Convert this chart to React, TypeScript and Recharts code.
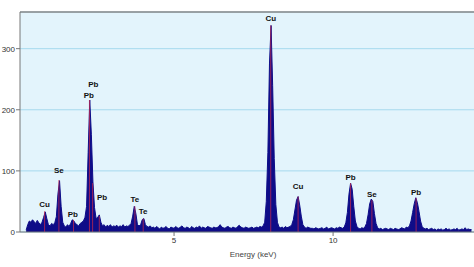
import { Area, CartesianGrid, ComposedChart, ReferenceDot, ReferenceLine, XAxis, YAxis } from 'recharts';

// Spectre EDS : canaux de 0,05 keV à partir de 0,35 keV
const startKeV = 0.35;
const stepKeV = 0.05;

const counts = [
  // 0.35 - 1.30
  3, 12, 18, 16, 20, 17, 14, 19, 15, 12, 16, 24, 33, 22, 12, 10, 14, 12, 15, 25,
  // 1.35 - 2.30
  62, 84, 42, 16, 10, 8, 12, 9, 14, 20, 18, 14, 12, 10, 14, 16, 18, 24, 42, 130,
  // 2.35 - 3.30
  216, 160, 82, 40, 22, 24, 28, 16, 10, 12, 8, 11, 9, 12, 8, 10, 9, 11, 8, 10,
  // 3.35 - 4.30
  9, 12, 8, 10, 9, 11, 14, 26, 42, 30, 12, 10, 12, 20, 22, 12, 9, 8, 10, 7,
  // 4.35 - 5.30
  8, 6, 9, 7, 5, 8, 6, 7, 9, 6, 5, 8, 7, 6, 9, 7, 6, 8, 10, 7,
  // 5.35 - 6.30
  6, 8, 7, 5, 9, 7, 6, 8, 7, 10, 6, 8, 7, 6, 9, 8, 7, 6, 8, 7,
  // 6.35 - 7.30
  7, 9, 12, 8, 7, 6, 8, 9, 7, 6, 8, 7, 6, 9, 11, 8, 7, 6, 8, 7,
  // 7.35 - 8.30
  6, 7, 8, 6, 7, 8, 7, 9, 8, 10, 16, 50, 130, 275, 338, 240, 120, 45, 16, 8,
  // 8.35 - 9.30
  7, 8, 6, 9, 7, 8, 9, 12, 20, 36, 52, 58, 44, 26, 12, 8, 6, 8, 7, 6,
  // 9.35 - 10.30
  6, 5, 7, 6, 5, 6, 7, 5, 6, 8, 5, 6, 7, 6, 5, 7, 6, 8, 7, 6,
  // 10.35 - 11.30
  8, 15, 32, 62, 80, 70, 42, 18, 9, 6, 5, 7, 6, 8, 14, 28, 46, 54, 50, 30,
  // 11.35 - 12.30
  14, 7, 5, 6, 4, 5, 6, 5, 4, 6, 5, 4, 6, 5, 4, 5, 7, 6, 5, 8,
  // 12.35 - 13.30
  7, 10, 18, 32, 46, 56, 48, 34, 18, 9, 6, 5, 6, 4, 5, 6, 4, 5, 3, 5,
  // 13.35 - 14.35
  4, 5, 3, 4, 6, 4, 5, 3, 4, 5, 4, 6, 3, 4, 5, 4, 7, 4, 5, 4, 4,
];

// Raies identifiées
const peakNames = ['Cu', 'Se', 'Pb', 'Pb', 'Pb', 'Pb', 'Te', 'Te', 'Cu', 'Cu', 'Pb', 'Se', 'Pb'];
const peakKeV = [0.93, 1.38, 1.84, 2.34, 2.44, 2.65, 3.77, 4.03, 8.04, 8.9, 10.55, 11.22, 12.61];
const peakHeights = [34, 85, 20, 216, 80, 26, 42, 22, 338, 58, 80, 52, 56];
const labelKeV = [0.93, 1.38, 1.82, 2.32, 2.46, 2.74, 3.77, 4.03, 8.04, 8.9, 10.55, 11.22, 12.61];
const labelCounts = [45, 101, 29, 224, 241, 57, 53, 33, 349, 75, 90, 61, 64];

const xTicks = [5, 10];
const yTicks = [0, 100, 200, 300];

const spectrum = counts.map((c, i) => ({ keV: +(startKeV + i * stepKeV).toFixed(2), counts: c }));

const FONT = "Arial, 'Liberation Sans', sans-serif";

export default function App() {
  return (
    <div style={{ position: 'absolute', left: 0, top: 0, width: 474, height: 267, background: '#fff' }}>
      <ComposedChart width={474} height={267} data={spectrum} margin={{ top: 12, right: 0, bottom: 0, left: 0 }}>
        <CartesianGrid horizontal vertical={false} fill="#e3f4fc" stroke="#a6d9ee" />
        <XAxis
          dataKey="keV"
          type="number"
          domain={[0.157, 14.43]}
          allowDataOverflow
          ticks={xTicks}
          height={35}
          tickSize={4}
          tickMargin={1}
          stroke="#777"
          tick={{ fontSize: 8, fill: '#333', fontFamily: FONT }}
          label={{ value: 'Energy (keV)', position: 'insideBottom', offset: 10, dx: 6, fontSize: 8, fill: '#444', fontFamily: FONT }}
        />
        <YAxis
          type="number"
          domain={[0, 360]}
          ticks={yTicks}
          width={20}
          tickSize={4}
          tickMargin={1}
          stroke="#777"
          tick={{ fontSize: 8, fill: '#333', fontFamily: FONT }}
        />
        <ReferenceLine y={360} stroke="#888" strokeWidth={1.5} ifOverflow="visible" />
        <Area
          type="linear"
          dataKey="counts"
          stroke="#0e0c88"
          strokeWidth={1}
          fill="#0e0c88"
          fillOpacity={1}
          isAnimationActive={false}
          dot={false}
          activeDot={false}
        />
        {peakKeV.map((k, i) => (
          <ReferenceLine
            key={`l${i}`}
            segment={[{ x: k, y: 0 }, { x: k, y: peakHeights[i] }]}
            stroke="#c8284c"
            strokeOpacity={0.75}
            strokeWidth={1}
          />
        ))}
        {peakNames.map((name, i) => (
          <ReferenceDot
            key={`d${i}`}
            x={labelKeV[i]}
            y={labelCounts[i]}
            ifOverflow="visible"
            shape={(p: any) => (
              <text
                x={p.cx}
                y={p.cy}
                textAnchor="middle"
                dominantBaseline="central"
                fontSize={8}
                fontWeight="bold"
                fontFamily={FONT}
                fill="#111"
              >
                {name}
              </text>
            )}
          />
        ))}
      </ComposedChart>
    </div>
  );
}
